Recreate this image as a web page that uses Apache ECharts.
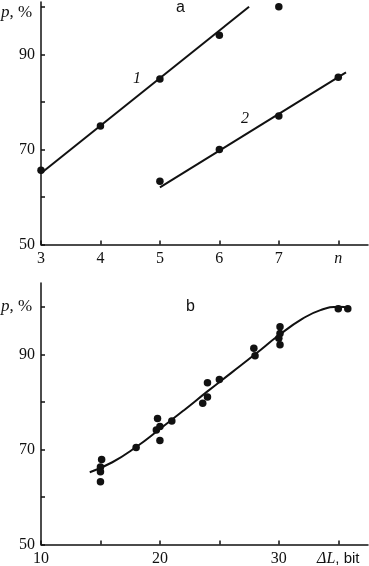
<!DOCTYPE html>
<html>
<head>
<meta charset="utf-8">
<script src="https://cdn.jsdelivr.net/npm/echarts@6/dist/echarts.min.js"></script>
<style>
    html, body { margin: 0; padding: 0; background: #fff; }
    #chart { width: 369px; height: 566px; }
</style>
</head>
<body>
<div id="chart"></div>
<script>
// panel a: recognition vs n
var aPoints1 = [[3, 65.6], [4, 74.9], [5, 84.8], [6, 94], [7, 100]]
var aPoints2 = [[5, 63.3], [6, 70], [7, 77], [8, 85.2]]
var aLine1 = [[3, 65], [6.5, 100]]
var aLine2 = [[5, 62], [8.13, 86.2]]
var aTicksX = [3, 4, 5, 6, 7, 8]

// panel b: recognition vs delta L
var bPoints = [
    [15.1, 67.9], [15, 66.3], [15, 65.3], [15, 63.2],
    [18, 70.4], [19.8, 76.5], [19.7, 74.1], [20, 74.8], [20, 71.9], [21, 76],
    [23.6, 79.7], [24, 81], [24, 84], [25, 84.7],
    [27.9, 91.3], [28, 89.7],
    [30.1, 95.8], [30.1, 94.4], [30, 93.4], [30.1, 92],
    [35, 99.6], [35.8, 99.6]
]
var bCurveX = [14.1, 16, 18, 20, 22, 24, 26, 28, 30, 32, 33.5, 35, 36]
var bCurveY = [65.2, 67.3, 70.5, 74.3, 78.2, 82.2, 86.1, 90, 94, 97.5, 99.3, 100, 99.7]
var bTicksX = [10, 15, 20, 25, 30, 35]
var yTicks = [50, 60, 70, 80, 90, 100]
var yLabels = [50, 70, 90]

var ink = '#111'
var serif = 'Liberation Serif'
var sans = 'Liberation Sans'

$ready(function() {
    initChart()
})

function $ready(fn) {
    if (document.readyState != 'loading') fn()
    else document.addEventListener('DOMContentLoaded', fn)
}

function axisBase() {
    return {
        axisLine: { onZero: false, lineStyle: { color: ink, width: 1.5 } },
        axisTick: { inside: true, length: 4, lineStyle: { color: ink, width: 1.5 } },
        splitLine: { show: false },
        axisLabel: { color: ink, fontFamily: serif, fontSize: 16 }
    }
}

function makeY(idx, max) {
    var ax = axisBase()
    ax.type = 'value'
    ax.gridIndex = idx
    ax.min = 50
    ax.max = max
    ax.axisTick.customValues = yTicks
    ax.axisLabel.customValues = yLabels
    ax.axisLabel.margin = 6
    return ax
}

function initChart() {
    var myChart = echarts.init(document.getElementById('chart'), null, { renderer: 'canvas' })

    var xa = axisBase()
    xa.type = 'value'
    xa.gridIndex = 0
    xa.min = 3
    xa.max = 8.5
    xa.axisTick.customValues = aTicksX
    xa.axisLabel.customValues = aTicksX
    xa.axisLabel.margin = 6
    xa.axisLabel.formatter = function(v) {
        return v == 8 ? '{i|n}' : String(v)
    }
    xa.axisLabel.rich = { i: { fontFamily: serif, fontStyle: 'italic', fontSize: 16, color: ink } }

    var xb = axisBase()
    xb.type = 'value'
    xb.gridIndex = 1
    xb.min = 10
    xb.max = 37.5
    xb.axisTick.customValues = bTicksX
    xb.axisLabel.customValues = [10, 20, 30, 35]
    xb.axisLabel.margin = 6
    xb.axisLabel.formatter = function(v) {
        return v == 35 ? '{i|ΔL}{s|, bit}' : String(v)
    }
    xb.axisLabel.rich = {
        i: { fontFamily: serif, fontStyle: 'italic', fontSize: 16, color: ink },
        s: { fontFamily: sans, fontSize: 15, color: ink }
    }

    var dot = { type: 'scatter', symbol: 'circle', symbolSize: 7.5, itemStyle: { color: ink, opacity: 1 }, z: 3 }
    var line = { type: 'line', showSymbol: false, lineStyle: { color: ink, width: 2 } }

    var bCurve = bCurveX.map(function(x, i) { return [x, bCurveY[i]] })

    var option = {
        backgroundColor: '#fff',
        animation: false,
        grid: [
            { left: 41, top: 2, right: 1, height: 242.5, outerBoundsMode: 'none' },
            { left: 41, top: 283, right: 1, height: 261.5, outerBoundsMode: 'none' }
        ],
        xAxis: [xa, xb],
        yAxis: [makeY(0, 101), makeY(1, 105)],
        series: [
            Object.assign({}, line, { name: 'line1', xAxisIndex: 0, yAxisIndex: 0, data: aLine1 }),
            Object.assign({}, line, { name: 'line2', xAxisIndex: 0, yAxisIndex: 0, data: aLine2 }),
            Object.assign({}, dot, { name: 'points1', xAxisIndex: 0, yAxisIndex: 0, data: aPoints1 }),
            Object.assign({}, dot, { name: 'points2', xAxisIndex: 0, yAxisIndex: 0, data: aPoints2 }),
            Object.assign({}, line, { name: 'curve', xAxisIndex: 1, yAxisIndex: 1, smooth: true, data: bCurve }),
            Object.assign({}, dot, { name: 'pointsB', xAxisIndex: 1, yAxisIndex: 1, data: bPoints })
        ],
        graphic: [
            pLabel(1, 4),
            pLabel(1, 298),
            { type: 'text', left: 176, top: 0, style: { text: 'a', font: '16px ' + sans, fill: ink } },
            { type: 'text', left: 186, top: 299, style: { text: 'b', font: '16px ' + sans, fill: ink } },
            { type: 'text', left: 133, top: 71, style: { text: '1', font: 'italic 16px ' + serif, fill: ink } },
            { type: 'text', left: 241, top: 111, style: { text: '2', font: 'italic 16px ' + serif, fill: ink } }
        ]
    }
    myChart.setOption(option)
}

// "p, %" axis caption
function pLabel(x, y) {
    return {
        type: 'text', left: x, top: y,
        style: {
            text: '{i|p}{r|, %}',
            rich: {
                i: { fontFamily: serif, fontStyle: 'italic', fontSize: 17, fill: ink },
                r: { fontFamily: serif, fontSize: 17, fill: ink }
            }
        }
    }
}
</script>
</body>
</html>
